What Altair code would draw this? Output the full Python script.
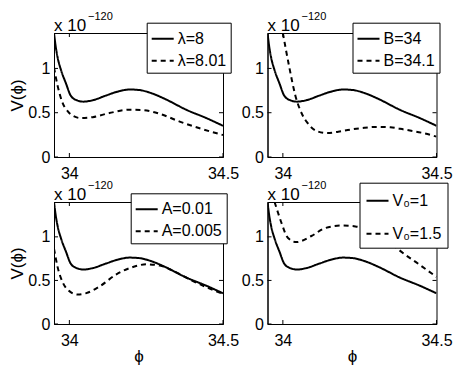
import altair as alt
import pandas as pd

FONT = "Liberation Sans"

# common solid curve (values in units of 10^-120)
phi_base = [33.95, 33.955, 33.962, 33.973, 33.989, 34.005, 34.027, 34.046, 34.076, 34.12,
            34.163, 34.196, 34.228, 34.272, 34.315, 34.38, 34.446, 34.5]
v_base = [1.40, 1.26, 1.12, 0.98, 0.83, 0.69, 0.637, 0.625, 0.641, 0.695,
          0.744, 0.762, 0.756, 0.714, 0.649, 0.534, 0.439, 0.352]

# dashed curves
phi_lam = [33.95, 33.962, 33.978, 33.995, 34.011, 34.038, 34.076, 34.13, 34.196, 34.239,
           34.293, 34.359, 34.424, 34.5]
v_lam = [1.01, 0.80, 0.61, 0.515, 0.466, 0.439, 0.45, 0.496, 0.534, 0.53,
         0.489, 0.40, 0.324, 0.248]

phi_B = [34.0, 34.02, 34.041, 34.063, 34.079, 34.112, 34.145, 34.18, 34.221, 34.265,
         34.308, 34.35, 34.395, 34.45, 34.5]
v_B = [1.40, 1.03, 0.69, 0.48, 0.39, 0.29, 0.27, 0.285, 0.31, 0.33,
       0.34, 0.335, 0.31, 0.275, 0.23]

phi_A = [33.95, 33.962, 33.978, 34.0, 34.027, 34.055, 34.098, 34.153, 34.207, 34.251,
         34.295, 34.349, 34.404, 34.448, 34.5]
v_A = [0.865, 0.65, 0.48, 0.377, 0.338, 0.354, 0.43, 0.57, 0.654, 0.685,
       0.67, 0.59, 0.49, 0.42, 0.346]

phi_V0 = [33.973, 33.984, 33.995, 34.016, 34.044, 34.093, 34.137, 34.192, 34.236, 34.291,
          34.346, 34.378, 34.445, 34.5]
v_V0 = [1.40, 1.28, 1.165, 0.99, 0.94, 1.01, 1.10, 1.13, 1.12, 1.07,
        0.95, 0.85, 0.68, 0.54]

labels_lam = ["λ=8", "λ=8.01"]
labels_B = ["B=34", "B=34.1"]
labels_A = ["A=0.01", "A=0.005"]
labels_V0 = ["V₀=1", "V₀=1.5"]

x_ticks = [34, 34.5]
y_ticks = [0, 0.5, 1]
x_domain = [33.95, 34.5]
y_domain = [0, 1.4]

W = 169


def panel(phi_d, v_d, labs, lx, ly, show_x_title, show_y_title, h, pad=4, rp=2):
    df = pd.concat([
        pd.DataFrame({"phi": phi_base, "V": v_base, "series": labs[0]}),
        pd.DataFrame({"phi": phi_d, "V": v_d, "series": labs[1]}),
    ])
    xscale = alt.Scale(domain=x_domain, nice=False, zero=False)
    yscale = alt.Scale(domain=y_domain, nice=False)
    x_axis = alt.Axis(values=x_ticks, format="~g", title="ϕ" if show_x_title else None)
    y_axis = alt.Axis(values=y_ticks, format="~g", title="V(ϕ)" if show_y_title else None)

    lines = alt.Chart(df).mark_line(color="black", strokeWidth=2, interpolate="monotone", clip=True).encode(
        x=alt.X("phi:Q", scale=xscale, axis=x_axis),
        y=alt.Y("V:Q", scale=yscale, axis=y_axis),
        strokeDash=alt.StrokeDash(
            "series:N",
            scale=alt.Scale(domain=labs, range=[[1, 0], [5, 4]]),
            legend=alt.Legend(
                orient="none", legendX=lx, legendY=ly, title=None,
                fillColor="white", strokeColor="black", padding=pad,
                labelFont=FONT, labelFontSize=16, labelColor="black",
                symbolType="stroke", symbolStrokeWidth=2, symbolStrokeColor="black",
                symbolSize=484, labelOffset=3, rowPadding=rp,
            ),
        ),
    )

    yt = alt.Chart(pd.DataFrame({"V": y_ticks}))
    yl = yt.mark_rule(color="black", strokeWidth=1).encode(
        y=alt.Y("V:Q", scale=yscale, axis=y_axis), x=alt.value(0), x2=alt.value(4))
    yr = yt.mark_rule(color="black", strokeWidth=1).encode(
        y=alt.Y("V:Q", scale=yscale, axis=y_axis), x=alt.value(W), x2=alt.value(W - 4))
    xt = alt.Chart(pd.DataFrame({"phi": x_ticks}))
    xb = xt.mark_rule(color="black", strokeWidth=1).encode(
        x=alt.X("phi:Q", scale=xscale, axis=x_axis), y=alt.value(h), y2=alt.value(h - 4))
    xtp = xt.mark_rule(color="black", strokeWidth=1).encode(
        x=alt.X("phi:Q", scale=xscale, axis=x_axis), y=alt.value(0), y2=alt.value(4))

    base_t = alt.Chart(pd.DataFrame({"t": ["x 10"]})).mark_text(
        align="left", baseline="alphabetic", fontSize=17, font=FONT, color="black"
    ).encode(text="t:N", x=alt.value(0), y=alt.value(-2))
    exp_t = alt.Chart(pd.DataFrame({"t": ["−120"]})).mark_text(
        align="left", baseline="alphabetic", fontSize=11, font=FONT, color="black"
    ).encode(text="t:N", x=alt.value(34), y=alt.value(-13))

    return alt.layer(lines, yl, yr, xb, xtp, base_t, exp_t).properties(width=W, height=h)


p1 = panel(phi_lam, v_lam, labels_lam, 92.7, -10.3, False, True, 124)
p2 = panel(phi_B, v_B, labels_B, 85, -10.3, False, False, 124)
p3 = panel(phi_A, v_A, labels_A, 76.7, -8.7, True, True, 122)
p4 = panel(phi_V0, v_V0, labels_V0, 92, -19.3, True, False, 122, pad=6, rp=13)

chart = alt.concat(
    p1, p2, p3, p4, columns=2, spacing={"row": 45, "column": 44.5}, bounds="flush"
).resolve_scale(
    strokeDash="independent", x="independent", y="independent"
).resolve_legend(strokeDash="independent").properties(
    padding={"left": 0, "top": 2, "right": 2, "bottom": 2}
).configure_view(
    stroke="black", strokeWidth=1
).configure_axis(
    labelFont=FONT, labelFontSize=16, labelColor="black",
    titleFont=FONT, titleFontSize=17, titleFontWeight="normal", titleColor="black",
    domainColor="black", domainWidth=1, ticks=False, grid=False,
).configure_axisX(
    labelPadding=8, titlePadding=0, labelFlush=False,
).configure_axisY(
    labelPadding=4, titlePadding=1,
)

chart.save("out.html", embed_options={"renderer": "svg", "actions": False})
